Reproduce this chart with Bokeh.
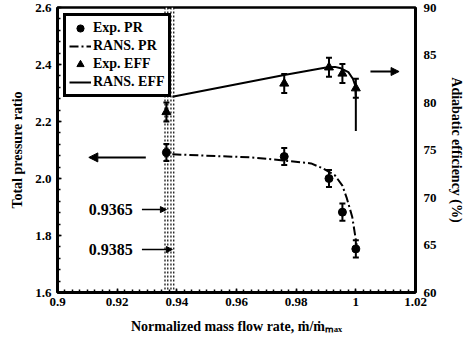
import numpy as np
from bokeh.plotting import figure
from bokeh.models import (Range1d, LinearAxis, FixedTicker, ColumnDataSource, Whisker, TeeHead,
                          Legend, LegendItem, Span, Arrow, NormalHead, Label)
from bokeh.embed import file_html
from bokeh.resources import INLINE

# ---------------- data ----------------
exp_x = [0.9365, 0.976, 0.991, 0.9955, 1.0]
exp_pr = [2.091, 2.077, 2.0, 1.882, 1.753]
exp_eff = [79.0, 82.0, 83.7, 83.05, 81.5]
pr_err = 0.03
eff_err = 1.0

rans_pr_x = [0.9385, 0.955, 0.965, 0.975, 0.985, 0.989, 0.993, 0.9955, 0.997, 0.9988, 1.0, 1.0005]
rans_pr = [2.085, 2.078, 2.074, 2.064, 2.053, 2.035, 2.011, 1.975, 1.93, 1.865, 1.785, 1.75]

rans_eff_x = [0.9385, 0.976, 0.9905, 0.993, 0.995, 0.9975, 0.999, 0.9998, 1.0, 1.0]
rans_eff = [80.6, 82.9, 83.7, 83.75, 83.6, 83.2, 82.5, 81.8, 80.5, 77.0]

vline_x = [0.9365, 0.9385]
vline_labels = ["0.9365", "0.9385"]
vline_label_y = [1.891, 1.751]

x_ticks = [0.9, 0.92, 0.94, 0.96, 0.98, 1.0, 1.02]
x_tick_labels = ["0.9", "0.92", "0.94", "0.96", "0.98", "1", "1.02"]
pr_ticks = [1.6, 1.8, 2.0, 2.2, 2.4, 2.6]
pr_tick_labels = ["1.6", "1.8", "2.0", "2.2", "2.4", "2.6"]
eff_ticks = [60, 65, 70, 75, 80, 85, 90]
eff_tick_labels = ["60", "65", "70", "75", "80", "85", "90"]

FONT = "Liberation Serif"

p = figure(width=474, height=355, output_backend="svg", toolbar_location=None,
           x_range=Range1d(0.9, 1.02), y_range=Range1d(1.6, 2.6),
           min_border_left=57, min_border_right=59, min_border_top=7, min_border_bottom=63)
p.extra_y_ranges = {"eff": Range1d(60, 90)}
p.background_fill_color = "white"
p.border_fill_color = "white"
p.outline_line_color = "black"
p.outline_line_width = 2.5
p.xgrid.visible = False
p.ygrid.visible = False

# axes
xa = p.xaxis[0]
xa.ticker = FixedTicker(ticks=x_ticks, minor_ticks=list(np.round(np.arange(0.9, 1.0201, 0.0025), 5)))
xa.major_label_overrides = dict(zip(x_ticks, x_tick_labels))
xa.axis_label = "Normalized mass flow rate, ṁ/ṁₘₐₓ"
ya = p.yaxis[0]
ya.ticker = FixedTicker(ticks=pr_ticks, minor_ticks=list(np.round(np.arange(1.6, 2.6001, 0.04), 4)))
ya.major_label_overrides = dict(zip(pr_ticks, pr_tick_labels))
ya.axis_label = "Total pressure ratio"

ra = LinearAxis(y_range_name="eff", ticker=FixedTicker(ticks=eff_ticks))
ra.major_label_overrides = dict(zip(eff_ticks, eff_tick_labels))
ra.axis_label = "Adiabatic efficiency (%)"
p.add_layout(ra, "right")

for ax in [xa, ya, ra]:
    ax.axis_line_width = 3
    ax.axis_line_color = "black"
    ax.major_tick_in = 4
    ax.major_tick_out = 0
    ax.minor_tick_in = 3
    ax.minor_tick_out = 0
    ax.major_tick_line_width = 1.5
    ax.minor_tick_line_width = 1.5
    ax.major_label_text_font = FONT
    ax.major_label_text_font_style = "bold"
    ax.major_label_text_font_size = "13px"
    ax.major_label_text_color = "black"
    ax.axis_label_text_font = FONT
    ax.axis_label_text_font_style = "bold"
    ax.axis_label_text_font_size = "14px"
    ax.axis_label_text_color = "black"
ra.major_tick_in = 0
xa.major_label_standoff = 5
xa.axis_label_standoff = 10
ya.major_label_standoff = 6
ya.axis_label_standoff = 7
ra.major_label_standoff = 8
ra.axis_label_standoff = 9

# vertical dotted lines (double appearance)
for vx in vline_x:
    p.add_layout(Span(location=vx, dimension="height", line_color="black", line_width=4,
                      line_dash="2 2", level="underlay"))
    p.add_layout(Span(location=vx, dimension="height", line_color="white", line_width=1.6,
                      level="underlay"))

# sources
src_exp = ColumnDataSource(dict(x=exp_x, pr=exp_pr, eff=exp_eff,
                                pr_lo=[v - pr_err for v in exp_pr], pr_hi=[v + pr_err for v in exp_pr],
                                eff_lo=[v - eff_err for v in exp_eff], eff_hi=[v + eff_err for v in exp_eff]))

# RANS lines
r_rans_pr = p.line(rans_pr_x, rans_pr, line_color="black", line_width=2, line_dash="9 3 2 3")
r_rans_eff = p.line(rans_eff_x, rans_eff, line_color="black", line_width=2, y_range_name="eff")

# error bars
p.add_layout(Whisker(source=src_exp, base="x", lower="pr_lo", upper="pr_hi", line_width=2,
                     line_color="black",
                     upper_head=TeeHead(size=6, line_width=2), lower_head=TeeHead(size=6, line_width=2)))
p.add_layout(Whisker(source=src_exp, base="x", lower="eff_lo", upper="eff_hi", line_width=2,
                     line_color="black", y_range_name="eff",
                     upper_head=TeeHead(size=6, line_width=2), lower_head=TeeHead(size=6, line_width=2)))

# experimental markers
r_exp_pr = p.scatter("x", "pr", source=src_exp, marker="circle", size=8, color="black")
r_exp_eff = p.scatter("x", "eff", source=src_exp, marker="triangle", size=9, color="black",
                      y_range_name="eff")

# arrows pointing to axes
p.add_layout(Arrow(x_start=0.9296, y_start=2.074, x_end=0.9105, y_end=2.074, line_width=2,
                   end=NormalHead(size=9, fill_color="black", line_color="black")))
p.add_layout(Arrow(x_start=1.0049, y_start=83.26, x_end=1.0145, y_end=83.26, line_width=2,
                   y_range_name="eff",
                   end=NormalHead(size=8, fill_color="black", line_color="black")))

# labelled arrows to the vertical lines
for vx, lab, ly in zip(vline_x, vline_labels, vline_label_y):
    p.add_layout(Arrow(x_start=0.9283, y_start=ly, x_end=vx, y_end=ly, line_width=1.5,
                       end=NormalHead(size=6, fill_color="black", line_color="black")))
    p.add_layout(Label(x=0.9252, y=ly, text=lab, text_font=FONT, text_font_style="bold",
                       text_font_size="16px", text_align="right", text_baseline="middle",
                       text_color="black"))

# legend
legend = Legend(items=[
    LegendItem(label="Exp. PR", renderers=[r_exp_pr]),
    LegendItem(label="RANS. PR", renderers=[r_rans_pr]),
    LegendItem(label="Exp. EFF", renderers=[r_exp_eff]),
    LegendItem(label="RANS. EFF", renderers=[r_rans_eff]),
])
legend.location = "top_left"
legend.margin = 6
legend.padding = 3
legend.spacing = 0
legend.glyph_width = 22
legend.glyph_height = 18
legend.label_height = 18
legend.label_standoff = 2
legend.label_text_font = FONT
legend.label_text_font_style = "bold"
legend.label_text_font_size = "14px"
legend.label_text_color = "black"
legend.border_line_color = "black"
legend.border_line_alpha = 1.0
legend.border_line_width = 3
legend.background_fill_color = "white"
legend.background_fill_alpha = 1
p.add_layout(legend)

open("out.html", "w").write(file_html(p, INLINE))
